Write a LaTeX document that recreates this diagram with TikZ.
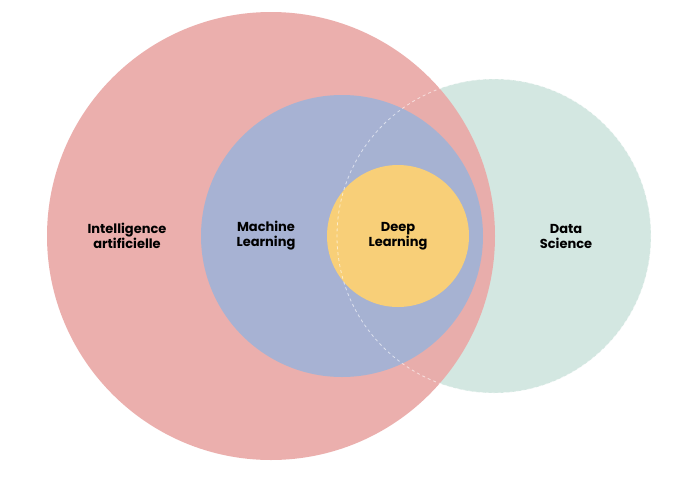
\documentclass[tikz,border=0pt]{standalone}
\usepackage{fontspec}
\setmainfont{Poppins}
\definecolor{cred}{HTML}{EAA9A7}
\definecolor{cgreen}{HTML}{D3E7E1}
\definecolor{cblue}{HTML}{A2B3D6}
\definecolor{cyel}{HTML}{F8CF78}
\begin{document}
\begin{tikzpicture}[x=1pt,y=-1pt,
  lbl/.style={font=\fontsize{13}{15}\selectfont\bfseries, align=center, text=black}]
\useasboundingbox (0,0) rectangle (686,483);
\fill[white] (0,0) rectangle (686,483);
\fill[cgreen] (494,236) circle (157);
\fill[cred, opacity=0.93] (271,236) circle (224);
\fill[cblue, opacity=0.93] (342,236) circle (141);
\fill[cyel] (398,236) circle (71);
\draw[white, dashed, opacity=0.6, line width=0.8pt] (494,236) circle (157);
\node[lbl] (ia) at (127,236) {Intelligence\\artificielle};
\node[lbl] (ml) at (266,236) {Machine\\Learning};
\node[lbl] (dl) at (398,236) {Deep\\Learning};
\node[lbl] (ds) at (566,236) {Data\\Science};
\end{tikzpicture}
\end{document}
